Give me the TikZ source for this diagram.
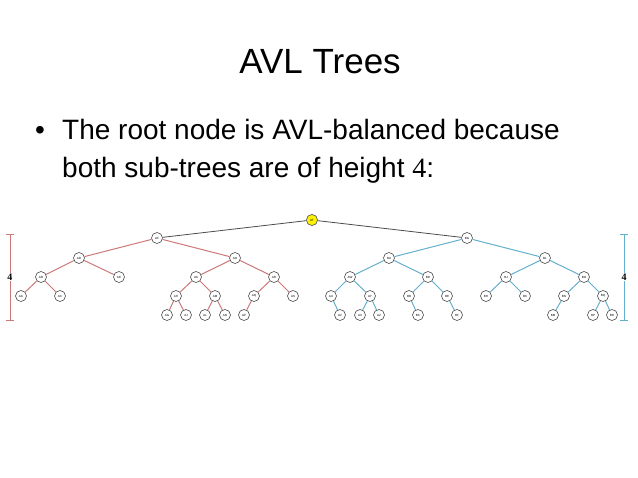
\documentclass[tikz,border=0pt]{standalone}
\usepackage{fontspec}
\setmainfont{Liberation Sans}
\newfontfamily\tms{Liberation Serif}
\definecolor{rl}{RGB}{205,120,120}
\definecolor{bl}{RGB}{100,175,205}
\begin{document}
\begin{tikzpicture}[x=1pt,y=-1pt,
 nd/.style={circle,draw=black!70,fill=white,line width=0.6pt,minimum size=11pt,inner sep=0pt,font=\fontsize{3}{3}\selectfont},
 re/.style={draw=rl,line width=1pt},be/.style={draw=bl,line width=1pt},
 body/.style={anchor=base west,font=\fontsize{28}{30}\selectfont,inner sep=0pt}]
\useasboundingbox (0,0) rectangle (638,478);
\node[font=\fontsize{35}{40}\selectfont] at (320,62) {AVL Trees};
\node[body] at (35,140) {•};
\node[body] (l1) at (62,140) {The root node is AVL-balanced because};
\node[body] (l2) at (62,178) {both sub-trees are of height {\tms 4}:};
\foreach \n/\x/\y in {AT/312/220,AF/157/238,AD/79/258,AO/235/258,AB/41/277,AE/119/277,AA/21/296,AC/60/296,AK/196/277,AR/274/277,AH/176/296,AM/215/296,AQ/254/296,AS/293/296,AG/167/315,AJ/186/315,AL/205/315,AN/225/315,AP/244/315,
BG/467/238,BA/389/258,BL/545/258,AW/350/277,BD/428/277,BJ/506/277,BO/584/277,AU/331/296,AY/370/296,BB/409/296,BE/447/296,BH/486/296,BK/525/296,BN/564/296,BQ/603/296,AV/340/315,AX/360/315,AZ/379/315,BC/418/315,BF/457/315,BM/553/315,BP/593/315,BR/612/315}
  \node[nd] (\n) at (\x,\y) {\n};
\foreach \a/\b in {AF/AD,AF/AO,AD/AB,AD/AE,AB/AA,AB/AC,AO/AK,AO/AR,AK/AH,AK/AM,AH/AG,AH/AJ,AM/AL,AM/AN,AR/AQ,AR/AS,AQ/AP}
  \draw[re] (\a) -- (\b);
\foreach \a/\b in {BG/BA,BG/BL,BA/AW,BA/BD,AW/AU,AW/AY,AU/AV,AY/AX,AY/AZ,BD/BB,BD/BE,BB/BC,BE/BF,BL/BJ,BL/BO,BJ/BH,BJ/BK,BO/BN,BO/BQ,BN/BM,BQ/BP,BQ/BR}
  \draw[be] (\a) -- (\b);
\draw[black!70,line width=0.8pt] (AT) -- (AF) (AT) -- (BG);
\node[nd,fill=yellow,draw=black!60] at (AT) {AT};
\coordinate (lt) at (10,234); \coordinate (lb) at (10,321);
\coordinate (rt) at (624,234); \coordinate (rb) at (624,321);
\draw[rl,line width=1pt,|-|] (lt) -- (lb);
\draw[bl,line width=1pt,|-|] (rt) -- (rb);
\node[fill=white,inner sep=0.5pt,font=\tms\bfseries\fontsize{10}{10}\selectfont] at (10,277) {4};
\node[fill=white,inner sep=0.5pt,font=\tms\bfseries\fontsize{10}{10}\selectfont] at (624,277) {4};
\end{tikzpicture}
\end{document}
